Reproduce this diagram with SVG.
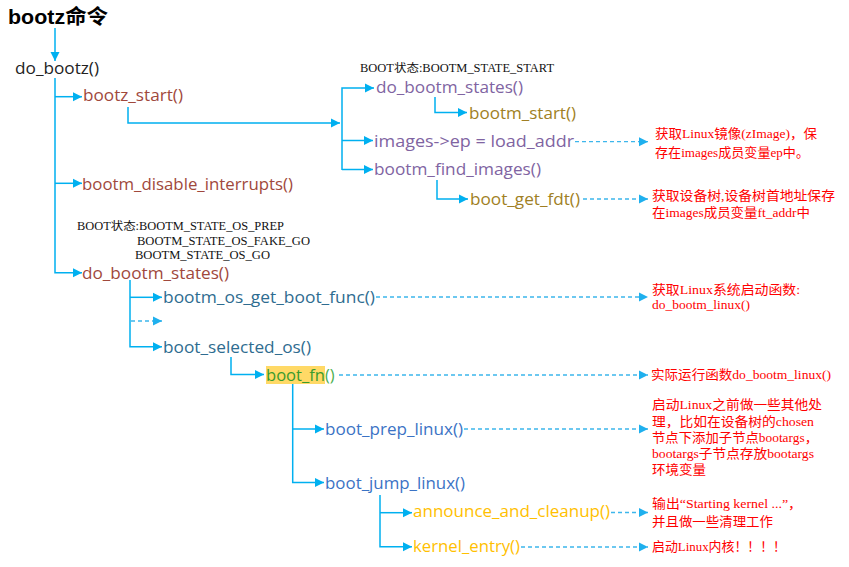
<svg xmlns="http://www.w3.org/2000/svg" width="849" height="567" viewBox="0 0 849 567">
<defs>
<marker id="ah" markerUnits="userSpaceOnUse" markerWidth="10" markerHeight="10" viewBox="0 0 10 10" refX="9" refY="5" orient="auto">
<path d="M0,0.5 L9,5 L0,9.5 z" fill="#00B0F0"/>
</marker>
<marker id="ahd" markerUnits="userSpaceOnUse" markerWidth="10" markerHeight="10" viewBox="0 0 10 10" refX="9" refY="5" orient="auto">
<path d="M0,0.5 L9,5 L0,9.5 z" fill="#1FB0EE"/>
</marker>
<style>
.ln{fill:none;stroke:#00B0F0;stroke-width:1.5}
.ar{marker-end:url(#ah)}
.ds{fill:none;stroke:#3DB6EC;stroke-width:1.3;stroke-dasharray:4 3;marker-end:url(#ahd)}
.f{font-family:"Open Sans","Liberation Sans",sans-serif;font-size:16.5px}
.s{font-family:"Liberation Serif","Noto Sans CJK SC",serif;font-size:11.5px;fill:#111}
.r{font-family:"Liberation Serif","Noto Sans CJK SC",serif;font-size:13px;fill:#FF0000}
.brown{fill:#A0483C}.purple{fill:#8064A2}.gold{fill:#A07F24}.teal{fill:#2E6C90}
.green{fill:#3A9B2C}.blue{fill:#3B73C5}.yel{fill:#FFC000}
</style>
</defs>
<rect width="849" height="567" fill="#ffffff"/>

<g id="connectors">
<path class="ln ar" d="M55,28 V61"/>
<path class="ln ar" d="M55,78 V272.7 H82"/>
<path class="ln ar" d="M55,96.7 H82"/>
<path class="ln ar" d="M55,183.3 H82"/>
<path class="ln ar" d="M128,107 V123 H340"/>
<path class="ln ar" d="M342,170 V88 H374"/>
<path class="ln ar" d="M342,140.5 H373"/>
<path class="ln ar" d="M342,169.5 H373"/>
<path class="ln ar" d="M435,97 V112.5 H467"/>
<path class="ln ar" d="M437,180 V199 H468"/>
<path class="ln ar" d="M130,280 V346.7 H162"/>
<path class="ln ar" d="M130,297.3 H162"/>
<path class="ds" d="M131,321 H162"/>
<path class="ln ar" d="M231,357 V374.5 H264"/>
<path class="ln ar" d="M292.7,384 V482.5 H324"/>
<path class="ln ar" d="M292.7,429 H324"/>
<path class="ln ar" d="M380,495 V546.7 H412"/>
<path class="ln ar" d="M380,512.7 H412"/>
<path class="ds" d="M575,141.7 H648"/>
<path class="ds" d="M583,199 H648"/>
<path class="ds" d="M376,297 H648"/>
<path class="ds" d="M339,375 H648"/>
<path class="ds" d="M464,429 H648"/>
<path class="ds" d="M611,512.5 H648"/>
<path class="ds" d="M521,547 H648"/>
</g>

<g id="title"><text x="8" y="24" font-family="Liberation Sans,Noto Sans CJK SC,sans-serif" font-size="20" font-weight="bold" fill="#000" textLength="100" lengthAdjust="spacingAndGlyphs">bootz命令</text></g>

<g id="do_bootz"><text class="f" x="15" y="74" fill="#222" textLength="84" lengthAdjust="spacingAndGlyphs">do_bootz()</text></g>
<g id="bootz_start"><text class="f brown" x="83" y="101" textLength="100" lengthAdjust="spacingAndGlyphs">bootz_start()</text></g>
<g id="bootm_disable_interrupts"><text class="f brown" x="82" y="189.5" textLength="211" lengthAdjust="spacingAndGlyphs">bootm_disable_interrupts()</text></g>

<g id="state_start"><text class="s" x="360" y="72" textLength="194" lengthAdjust="spacingAndGlyphs">BOOT状态:BOOTM_STATE_START</text></g>
<g id="do_bootm_states_r"><text class="f purple" x="376" y="93" textLength="147" lengthAdjust="spacingAndGlyphs">do_bootm_states()</text></g>
<g id="bootm_start"><text class="f gold" x="469" y="118.5" textLength="107" lengthAdjust="spacingAndGlyphs">bootm_start()</text></g>
<g id="images_ep"><text class="f purple" x="374" y="146.5" textLength="200" lengthAdjust="spacingAndGlyphs">images-&gt;ep = load_addr</text></g>
<g id="bootm_find_images"><text class="f purple" x="374" y="175" textLength="167" lengthAdjust="spacingAndGlyphs">bootm_find_images()</text></g>
<g id="boot_get_fdt"><text class="f gold" x="470" y="205" textLength="110" lengthAdjust="spacingAndGlyphs">boot_get_fdt()</text></g>

<g id="note_ep">
<text class="r" x="655" y="138" textLength="162" lengthAdjust="spacingAndGlyphs">获取Linux镜像(zImage)，保</text>
<text class="r" x="655" y="157" textLength="154" lengthAdjust="spacingAndGlyphs">存在images成员变量ep中。</text>
</g>
<g id="note_fdt">
<text class="r" x="652" y="200" textLength="183" lengthAdjust="spacingAndGlyphs">获取设备树,设备树首地址保存</text>
<text class="r" x="652" y="217" textLength="158" lengthAdjust="spacingAndGlyphs">在images成员变量ft_addr中</text>
</g>

<g id="state_os">
<text class="s" x="77" y="230" textLength="207" lengthAdjust="spacingAndGlyphs">BOOT状态:BOOTM_STATE_OS_PREP</text>
<text class="s" x="137" y="245" textLength="173" lengthAdjust="spacingAndGlyphs">BOOTM_STATE_OS_FAKE_GO</text>
<text class="s" x="135" y="259" textLength="135" lengthAdjust="spacingAndGlyphs">BOOTM_STATE_OS_GO</text>
</g>
<g id="do_bootm_states_l"><text class="f brown" x="82" y="278.5" textLength="147" lengthAdjust="spacingAndGlyphs">do_bootm_states()</text></g>
<g id="bootm_os_get_boot_func"><text class="f teal" x="163" y="302.7" textLength="212" lengthAdjust="spacingAndGlyphs">bootm_os_get_boot_func()</text></g>
<g id="boot_selected_os"><text class="f teal" x="163" y="353.3" textLength="148" lengthAdjust="spacingAndGlyphs">boot_selected_os()</text></g>
<g id="boot_fn">
<rect x="266" y="366" width="59" height="18" fill="#FFD966"/>
<text class="f" x="266" y="381.3"><tspan class="green" textLength="59" lengthAdjust="spacingAndGlyphs">boot_fn</tspan><tspan fill="#4CAF50">()</tspan></text>
</g>
<g id="note_func">
<text class="r" x="652" y="293.5" textLength="148" lengthAdjust="spacingAndGlyphs">获取Linux系统启动函数:</text>
<text class="r" x="652" y="309" textLength="98" lengthAdjust="spacingAndGlyphs">do_bootm_linux()</text>
</g>
<g id="note_fn"><text class="r" x="651" y="379" textLength="180" lengthAdjust="spacingAndGlyphs">实际运行函数do_bootm_linux()</text></g>

<g id="boot_prep_linux"><text class="f blue" x="325" y="435" textLength="138" lengthAdjust="spacingAndGlyphs">boot_prep_linux()</text></g>
<g id="boot_jump_linux"><text class="f blue" x="325" y="489" textLength="140" lengthAdjust="spacingAndGlyphs">boot_jump_linux()</text></g>
<g id="note_prep">
<text class="r" x="652" y="409" textLength="170" lengthAdjust="spacingAndGlyphs">启动Linux之前做一些其他处</text>
<text class="r" x="652" y="425.5" textLength="162" lengthAdjust="spacingAndGlyphs">理，比如在设备树的chosen</text>
<text class="r" x="652" y="441.5" textLength="166" lengthAdjust="spacingAndGlyphs">节点下添加子节点bootargs，</text>
<text class="r" x="652" y="457.5" textLength="162" lengthAdjust="spacingAndGlyphs">bootargs子节点存放bootargs</text>
<text class="r" x="652" y="474" textLength="54" lengthAdjust="spacingAndGlyphs">环境变量</text>
</g>

<g id="announce_and_cleanup"><text class="f yel" x="413" y="517" textLength="197" lengthAdjust="spacingAndGlyphs">announce_and_cleanup()</text></g>
<g id="kernel_entry"><text class="f yel" x="413" y="552" textLength="107" lengthAdjust="spacingAndGlyphs">kernel_entry()</text></g>
<g id="note_announce">
<text class="r" x="652" y="508" textLength="150" lengthAdjust="spacingAndGlyphs">输出“Starting kernel ...”，</text>
<text class="r" x="652" y="525.5" textLength="121" lengthAdjust="spacingAndGlyphs">并且做一些清理工作</text>
</g>
<g id="note_kernel"><text class="r" x="652" y="551" textLength="134" lengthAdjust="spacingAndGlyphs">启动Linux内核！！！！</text></g>
</svg>
